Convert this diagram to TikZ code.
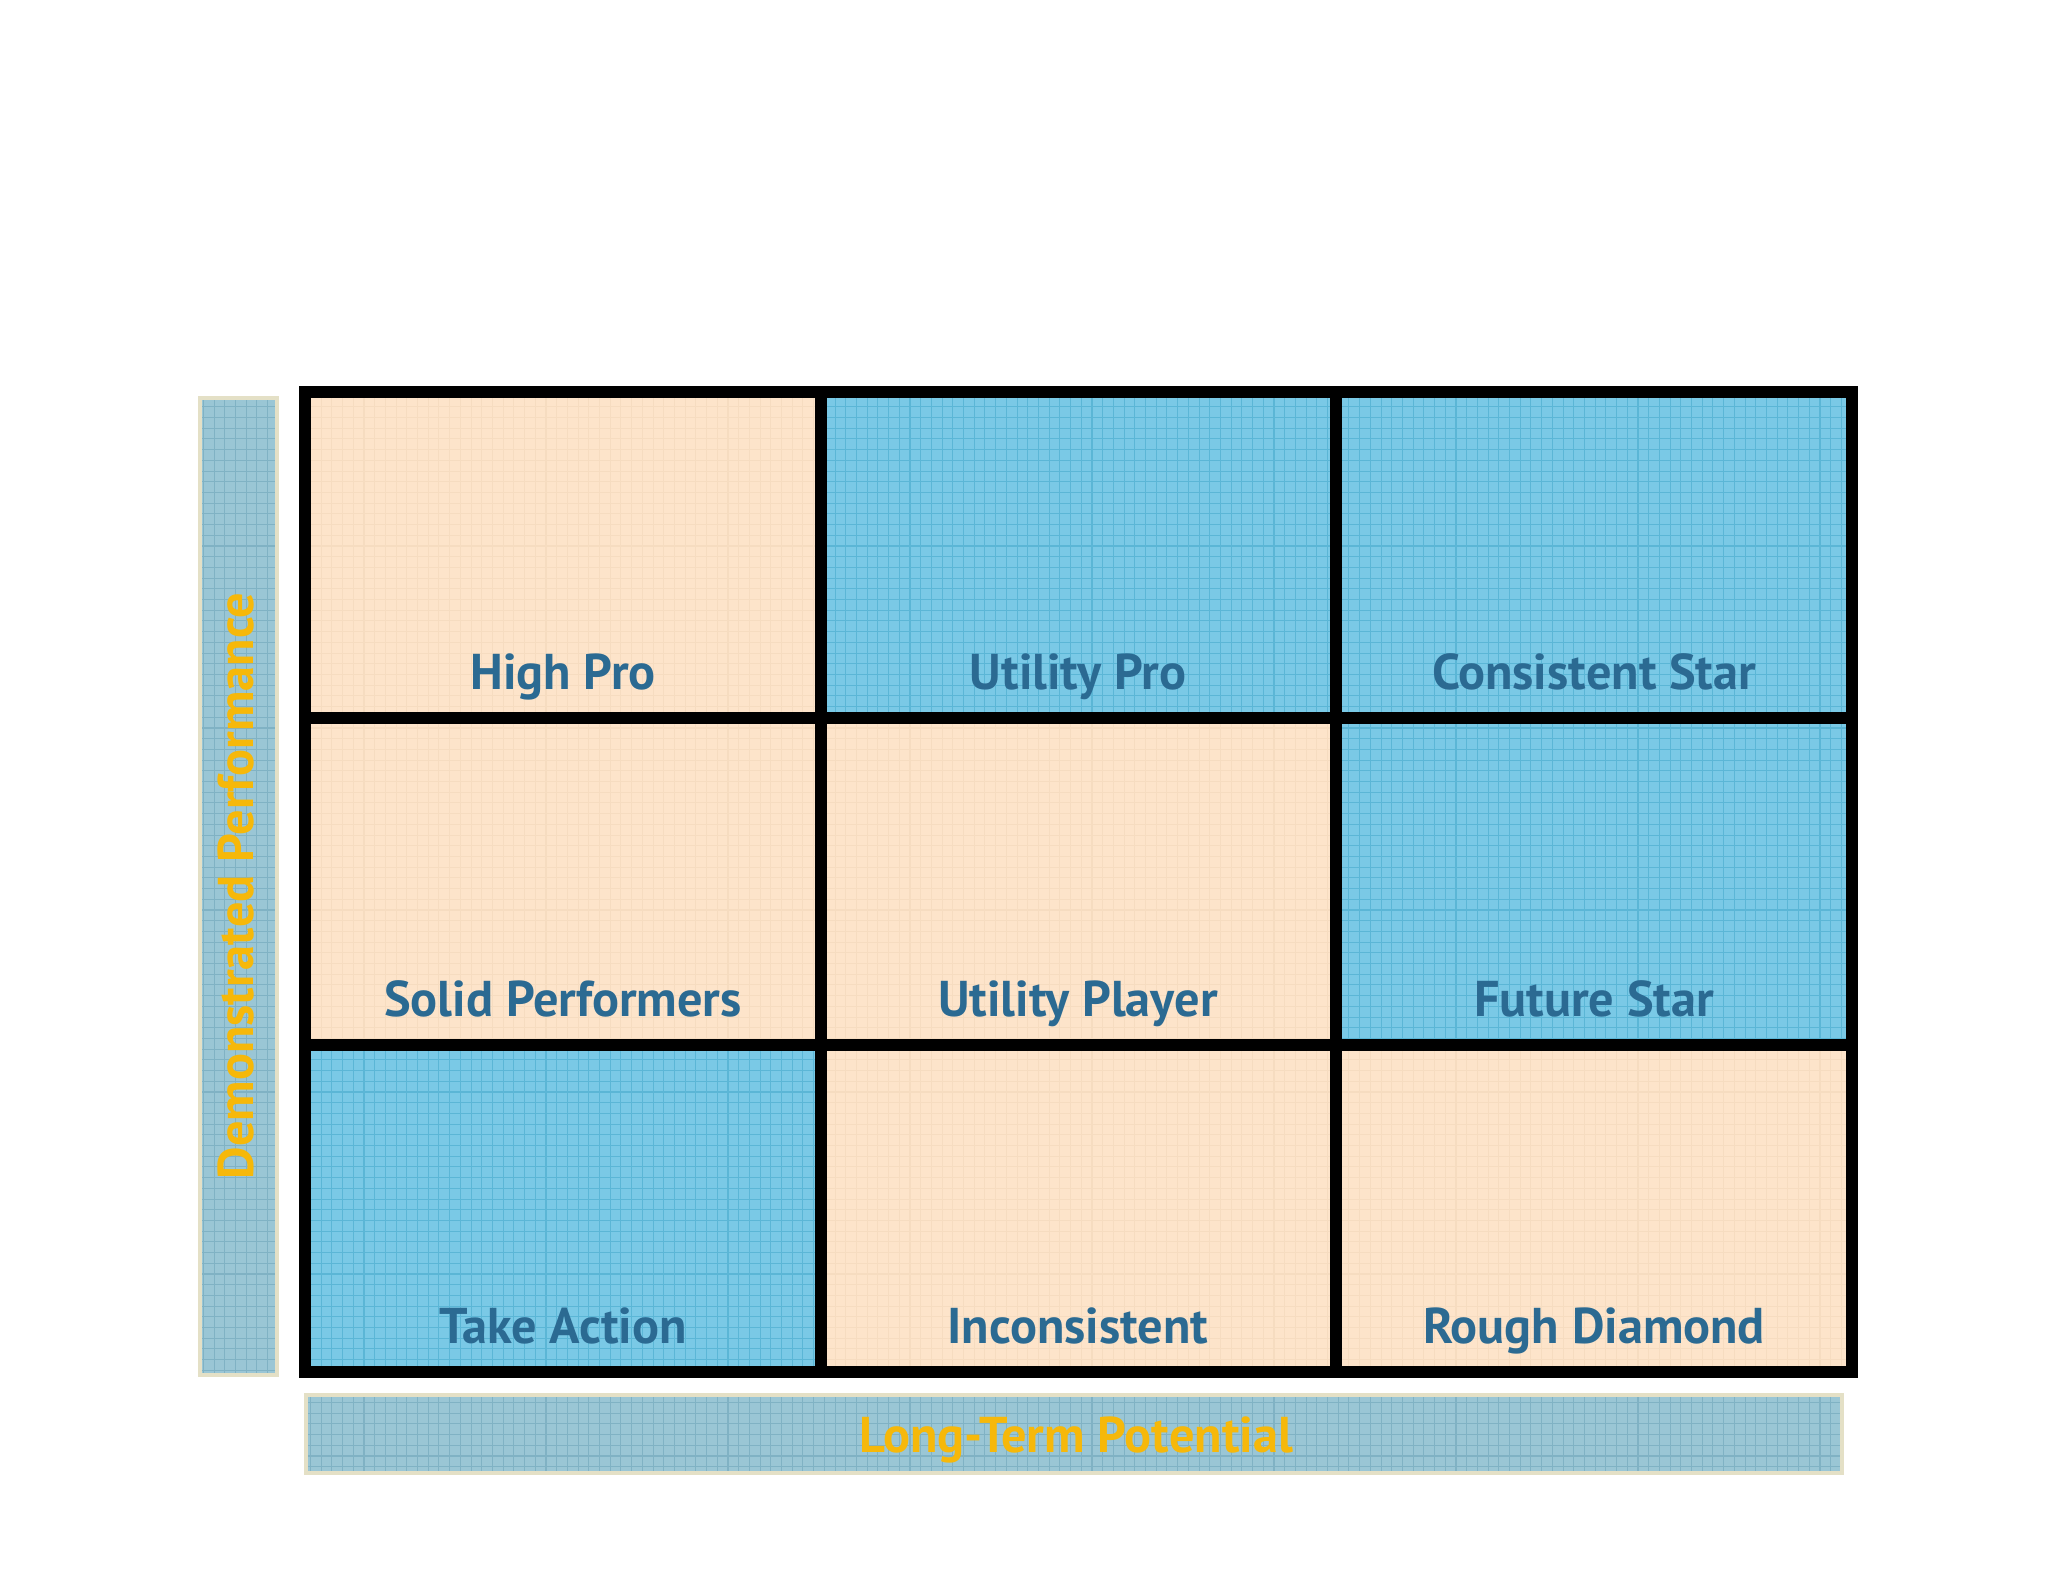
\documentclass[tikz,border=0pt]{standalone}
\usepackage{fontspec}
\setmainfont{PT Sans}
\definecolor{peach}{HTML}{FDE4CA}
\definecolor{peachline}{HTML}{F6DCC0}
\definecolor{sky}{HTML}{7AC9E6}
\definecolor{skyline}{HTML}{5BB6D6}
\definecolor{axisblue}{HTML}{9AC6D5}
\definecolor{axisline}{HTML}{80B2C4}
\definecolor{axisedge}{HTML}{E4E0C6}
\definecolor{labelblue}{HTML}{2B6A92}
\definecolor{gold}{HTML}{F6B80A}

\begin{document}
\begin{tikzpicture}[x=0.01cm, y=-0.01cm,
    cell/.style={font=\bfseries\fontsize{14.3}{16}\selectfont, text=labelblue, anchor=base},
    axislabel/.style={font=\bfseries\fontsize{14.3}{16}\selectfont, text=gold},
    finegrid/.style={step=0.107cm, line width=0.3pt}]
                \useasboundingbox (0,0) rectangle (2048,1582);
                % axis bars
                \fill[axisblue] (200,398) rectangle (277,1375);
                \draw[finegrid, axisline] (200,398) grid (277,1375);
                \draw[axisedge, line width=1pt] (200,398) rectangle (277,1375);
                \fill[axisblue] (306,1395) rectangle (1842,1473);
                \draw[finegrid, axisline] (306,1395) grid (1842,1473);
                \draw[axisedge, line width=1pt] (306,1395) rectangle (1842,1473);
                % cells
                \fill[peach] (305,392) rectangle (821,718);
                \draw[finegrid, peachline] (305,392) grid (821,718);
                \fill[sky] (821,392) rectangle (1336,718);
                \draw[finegrid, skyline] (821,392) grid (1336,718);
                \fill[sky] (1336,392) rectangle (1852,718);
                \draw[finegrid, skyline] (1336,392) grid (1852,718);
                \fill[peach] (305,718) rectangle (821,1045);
                \draw[finegrid, peachline] (305,718) grid (821,1045);
                \fill[peach] (821,718) rectangle (1336,1045);
                \draw[finegrid, peachline] (821,718) grid (1336,1045);
                \fill[sky] (1336,718) rectangle (1852,1045);
                \draw[finegrid, skyline] (1336,718) grid (1852,1045);
                \fill[sky] (305,1045) rectangle (821,1372);
                \draw[finegrid, skyline] (305,1045) grid (821,1372);
                \fill[peach] (821,1045) rectangle (1336,1372);
                \draw[finegrid, peachline] (821,1045) grid (1336,1372);
                \fill[peach] (1336,1045) rectangle (1852,1372);
                \draw[finegrid, peachline] (1336,1045) grid (1852,1372);
                % frame
                \draw[line width=0.12cm] (305,392) rectangle (1852,1372);
                \draw[line width=0.12cm] (821,392) -- (821,1372);
                \draw[line width=0.12cm] (1336,392) -- (1336,1372);
                \draw[line width=0.12cm] (305,718) -- (1852,718);
                \draw[line width=0.12cm] (305,1045) -- (1852,1045);
                % labels
                \node[cell] (hipro) at (563,689) {High Pro};
                \node[cell] (utilpro) at (1078,689) {Utility Pro};
                \node[cell] (conststar) at (1594,689) {Consistent Star};
                \node[cell] (solidperf) at (563,1016) {Solid Performers};
                \node[cell] (utilplayer) at (1078,1016) {Utility Player};
                \node[cell] (futstar) at (1594,1016) {Future Star};
                \node[cell] (takeact) at (563,1343) {Take Action};
                \node[cell] (incons) at (1078,1343) {Inconsistent};
                \node[cell] (roughdia) at (1594,1343) {Rough Diamond};
                \node[axislabel, rotate=90] (perfaxis) at (236,886) {Demonstrated Performance};
                \node[axislabel] (potaxis) at (1076,1440) {Long-Term Potential};
            \end{tikzpicture}
\end{document}
